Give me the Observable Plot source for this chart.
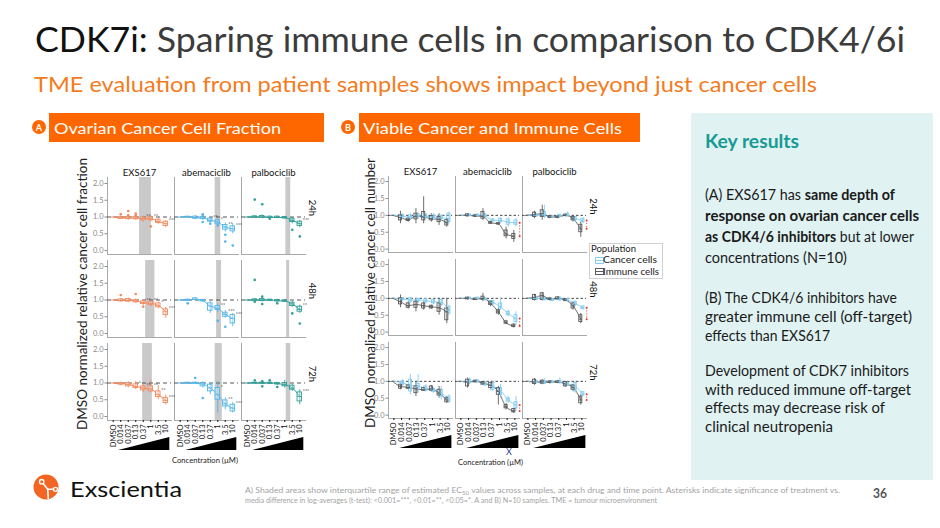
<!DOCTYPE html>
<html><head><meta charset="utf-8">
<script src="https://cdn.jsdelivr.net/npm/d3@7"></script>
<script src="https://cdn.jsdelivr.net/npm/@observablehq/plot@0.6"></script>
<style>
body{margin:0;background:#fff;}
#slide{position:relative;width:940px;height:528px;overflow:hidden;font-family:Lato,"Open Sans",sans-serif;background:#fff;}
.tx{position:absolute;white-space:nowrap;transform-origin:0 0;}
</style></head><body><div id="slide"></div>
<script>
// ---------------- DATA ----------------
const concLabels = ["DMSO","0.014","0.037","0.13","0.37","1","3.5","10"];
const concValues = [null,0.014,0.037,0.13,0.37,1,3.5,10];
const drugs = ["EXS617","abemaciclib","palbociclib"];
const times = ["24h","48h","72h"];
const drugColors = ["#F28A5E","#52B5E9","#2E9E96"];
const populations = ["Cancer cells","Immune cells"];
const popColors = ["#86CDF0","#5C5C5C"];

// Panel A: [median, q1, q3, whisker low, whisker high] per concentration
const fracEXS617_24h = [[1,1,1,1,1],[.97,.95,1,.93,1.02],[.97,.94,1,.9,1.04],[.97,.93,1,.9,1.04],[.95,.9,.99,.85,1.02],[.95,.9,1,.85,1.05],[.87,.82,.92,.78,.96],[.8,.73,.86,.68,.9]];
const fracAbema_24h = [[1,1,1,1,1],[1,.99,1.01,.98,1.02],[.98,.95,1.01,.92,1.05],[.97,.94,1,.9,1.03],[.9,.86,.95,.8,.98],[.85,.8,.9,.75,.95],[.7,.62,.76,.55,.82],[.65,.57,.72,.5,.8]];
const fracPalbo_24h = [[1,1,1,1,1],[1,.98,1.02,.96,1.04],[1,.98,1.03,.95,1.06],[.99,.97,1.01,.95,1.03],[.99,.97,1.01,.95,1.03],[.98,.96,1,.94,1.02],[.9,.85,.95,.8,.98],[.8,.73,.86,.68,.9]];
const fracEXS617_48h = [[1,1,1,1,1],[.99,.96,1.02,.93,1.05],[.99,.95,1.03,.92,1.06],[.97,.93,1,.9,1.03],[.92,.88,.96,.82,1],[.9,.85,.95,.8,.98],[.84,.78,.9,.74,.94],[.65,.55,.72,.45,.78]];
const fracAbema_48h = [[1,1,1,1,1],[1,.98,1.01,.96,1.02],[1.02,1,1.05,.98,1.07],[.98,.96,1,.94,1.01],[.82,.68,.9,.6,.95],[.75,.7,.82,.62,.88],[.57,.5,.62,.45,.68],[.45,.3,.55,.2,.6]];
const fracPalbo_48h = [[1,1,1,1,1],[1,.98,1.02,.96,1.04],[1,.97,1.03,.94,1.06],[1,.98,1.01,.96,1.02],[.98,.96,1,.94,1.02],[.97,.95,.99,.93,1.01],[.88,.82,.92,.78,.96],[.72,.65,.8,.6,.85]];
const fracEXS617_72h = [[1,1,1,1,1],[.98,.95,1,.92,1.03],[.96,.9,1,.85,1.04],[.9,.85,.96,.8,1.05],[.85,.78,.9,.72,.95],[.82,.75,.9,.7,1.08],[.65,.58,.75,.5,.92],[.48,.4,.55,.35,.65]];
const fracAbema_72h = [[1,1,1,1,1],[1,.98,1.01,.97,1.02],[1,.98,1.01,.97,1.03],[.97,.9,1,.85,1.04],[.85,.75,.95,.65,1],[.65,.5,.85,.1,1.05],[.38,.3,.48,.2,.55],[.25,.15,.35,.1,.42]];
const fracPalbo_72h = [[1,1,1,1,1],[1,.99,1.01,.98,1.02],[1,.98,1.01,.96,1.02],[1,.98,1.01,.96,1.02],[.98,.96,1,.93,1.02],[.95,.9,1,.85,1.08],[.85,.8,.92,.75,.96],[.6,.45,.72,.35,.8]];

// Panel A individual sample points: [concentration index, value]
const ptsEXS617_24h = [[1,1.08],[2,1.18],[2,1.05],[3,1.1],[3,1.05],[5,.72]];
const ptsAbema_24h = [[3,1.08],[3,1.03],[3,.85],[4,.8],[5,.75],[6,.47],[6,.27],[7,.15]];
const ptsPalbo_24h = [[1,1.52],[2,1.38],[3,.95],[6,.62],[7,.42]];
const ptsEXS617_48h = [[1,1.15],[3,1.18],[4,.8]];
const ptsAbema_48h = [[1,.9],[5,.38],[6,.2]];
const ptsPalbo_48h = [[1,1.6],[1,.95],[2,1.1],[2,.88],[4,.9],[6,.6],[7,.3]];
const ptsEXS617_72h = [];
const ptsAbema_72h = [[2,1.15],[3,.55]];
const ptsPalbo_72h = [[1,1.08],[2,1.05],[2,.9],[3,1.08],[4,.88]];

// Panel A significance labels: [concentration index, label]
const sigEXS617_24h = [[4,"**"],[5,"**"],[7,"***"]];
const sigAbema_24h = [[4,"**"],[5,"*"],[6,"**"],[7,"***"]];
const sigPalbo_24h = [[7,"***"]];
const sigEXS617_48h = [[4,"**"],[5,"**"],[6,"*"],[7,"***"]];
const sigAbema_48h = [[5,"**"],[6,"***"],[7,"***"]];
const sigPalbo_48h = [[7,"**"]];
const sigEXS617_72h = [[3,"*"],[4,"**"],[5,"**"],[6,"**"],[7,"***"]];
const sigAbema_72h = [[5,"*"],[6,"**"],[7,"***"]];
const sigPalbo_72h = [[7,"***"]];

// Panel A EC50 interquartile ranges (µM), rows = 24h, 48h, 72h
const ec50EXS617 = [[0.22,1.1],[0.51,2.0],[0.34,1.3]];
const ec50Abema = [[0.71,1.65],[0.86,1.87],[0.71,2.12]];
const ec50Palbo = [[1.2,2.7],[1.37,2.26],[1.28,2.72]];

// Panel B: cancer (C) and immune (I) cells, [median, q1, q3, low, high]
const numEXS617_24h_C = [[1,1,1,1,1],[.97,.93,1,.88,1.05],[.95,.9,1,.85,1.05],[.98,.93,1.03,.88,1.08],[.97,.92,1.02,.87,1.06],[.95,.9,1,.85,1.05],[.93,.88,.98,.82,1.03],[.9,.8,1.05,.75,1.1]];
const numEXS617_24h_I = [[1,1,1,1,1],[.93,.85,1,.75,1.12],[.87,.83,.9,.8,.95],[.97,.88,1.05,.75,1.2],[.95,.85,1.1,.75,1.55],[.9,.85,.98,.8,1.05],[.88,.8,.95,.7,1.05],[.78,.7,.86,.65,.92]];
const numAbema_24h_C = [[1,1,1,1,1],[1,.98,1.02,.96,1.04],[1,.97,1.02,.95,1.05],[.98,.95,1.02,.92,1.05],[.85,.82,.88,.8,.9],[.85,.8,.9,.75,.93],[.8,.72,.88,.65,.92],[.78,.72,.85,.65,.9]];
const numAbema_24h_I = [[1,1,1,1,1],[1,.97,1.03,.95,1.05],[.98,.96,1,.94,1.02],[.97,.9,1.1,.85,1.2],[.78,.75,.8,.73,.82],[.75,.73,.77,.71,.79],[.45,.38,.55,.3,.65],[.38,.3,.45,.2,.55]];
const numPalbo_24h_C = [[1,1,1,1,1],[1,.97,1.03,.94,1.06],[1.02,.95,1.1,.9,1.3],[.95,.92,.98,.9,1],[.98,.95,1.01,.92,1.04],[1,.97,1.05,.95,1.1],[.9,.85,.95,.8,.98],[.85,.8,.9,.75,.93]];
const numPalbo_24h_I = [[1,1,1,1,1],[1.02,.95,1.08,.9,1.12],[1.05,.95,1.15,.85,1.3],[.95,.92,.98,.9,1],[.95,.93,.97,.9,1],[1,.98,1.02,.95,1.04],[.9,.85,.95,.8,.98],[.6,.5,.72,.35,.8]];
const numEXS617_48h_C = [[1,1,1,1,1],[.98,.95,1,.9,1.03],[.95,.9,1,.85,1.02],[.95,.9,.98,.85,1],[.93,.88,.97,.83,1],[.9,.85,.95,.8,.98],[.88,.8,.95,.75,1],[.65,.55,.75,.5,.8]];
const numEXS617_48h_I = [[1,1,1,1,1],[.9,.82,1,.72,1.1],[.78,.72,.85,.68,.9],[.82,.72,.9,.6,1],[.78,.7,.85,.65,.9],[.75,.7,.78,.68,.8],[.72,.6,.85,.5,1],[.6,.35,.7,.25,1]];
const numAbema_48h_C = [[1,1,1,1,1],[1,.98,1.02,.96,1.04],[1,.98,1.02,.96,1.03],[.98,.95,1,.92,1.02],[.88,.82,.92,.78,.95],[.75,.7,.85,.65,1],[.55,.5,.6,.45,.65],[.4,.3,.5,.2,.6]];
const numAbema_48h_I = [[1,1,1,1,1],[1,.97,1.02,.95,1.04],[.97,.95,.99,.93,1],[1,.95,1.05,.9,1.15],[.85,.8,.9,.75,.92],[.6,.55,.65,.5,.7],[.28,.25,.32,.22,.35],[.18,.15,.22,.12,.25]];
const numPalbo_48h_C = [[1,1,1,1,1],[1,.96,1.03,.93,1.06],[.98,.95,1,.92,1.03],[.95,.92,.98,.9,1],[.98,.94,1.02,.9,1.05],[.95,.92,.98,.9,1],[.85,.8,.9,.75,.92],[.72,.68,.76,.65,.78]];
const numPalbo_48h_I = [[1,1,1,1,1],[1.03,.95,1.1,.92,1.12],[1.08,.95,1.15,.92,1.18],[.98,.95,1,.93,1.02],[1,.97,1.03,.95,1.05],[.95,.92,.97,.9,.98],[.78,.7,.85,.65,.88],[.38,.3,.5,.25,.55]];
const numEXS617_72h_C = [[1,1,1,1,1],[.95,.9,1,.85,1.05],[.88,.7,1.05,.6,1.2],[.85,.78,.92,.65,1.2],[.78,.72,.85,.68,.9],[.72,.68,.78,.65,.82],[.65,.55,.75,.45,.85],[.48,.4,.55,.35,.6]];
const numEXS617_72h_I = [[1,1,1,1,1],[.85,.78,.9,.75,.92],[.82,.78,.88,.75,.9],[.78,.65,.85,.55,1],[.75,.72,.8,.7,.82],[.78,.72,.85,.7,.88],[.65,.58,.75,.5,.85],[.45,.38,.5,.35,.55]];
const numAbema_72h_C = [[1,1,1,1,1],[1,.95,1.05,.9,1.1],[1,.97,1.03,.95,1.05],[.92,.88,.96,.85,1],[.85,.75,.95,.7,1],[.72,.6,.8,.5,.9],[.45,.4,.5,.35,.55],[.3,.2,.38,.1,.55]];
const numAbema_72h_I = [[1,1,1,1,1],[.98,.85,1.05,.8,1.1],[1,.97,1.02,.95,1.03],[.95,.9,.98,.88,1],[.88,.8,.95,.75,.98],[.7,.6,.8,.3,.85],[.25,.2,.3,.15,.35],[.12,.08,.18,.05,.2]];
const numPalbo_72h_C = [[1,1,1,1,1],[.98,.95,1,.92,1.03],[.97,.92,1,.9,1.08],[.98,.95,1,.93,1.03],[.98,.95,1.02,.9,1.1],[.92,.88,.95,.85,.98],[.85,.7,.95,.65,1],[.62,.58,.68,.55,.7]];
const numPalbo_72h_I = [[1,1,1,1,1],[.98,.92,1.05,.88,1.08],[.98,.93,1.02,.9,1.05],[.98,.95,1,.92,1.02],[.98,.95,1,.93,1.02],[.92,.85,.98,.82,1],[.82,.75,.88,.7,.9],[.45,.35,.55,.3,.6]];

// Panel B: significant cancer-vs-immune differences at the top concentration
const sigPairsB = [["abemaciclib","24h"],["palbociclib","24h"],["abemaciclib","48h"],["palbociclib","48h"],["abemaciclib","72h"],["palbociclib","72h"]];

// ---------------- BUILD TABLES ----------------
function concIndex(c){
  for (let k=1;k<7;k++) if (c <= concValues[k+1]) return k + Math.log(c/concValues[k])/Math.log(concValues[k+1]/concValues[k]);
  return 7;
}
const toRow = (drug,time,pop) => (t,i) => ({drug,time,pop,i,med:t[0],q1:t[1],q3:t[2],lo:t[3],hi:t[4]});
const fracSeries = [[fracEXS617_24h,fracAbema_24h,fracPalbo_24h],[fracEXS617_48h,fracAbema_48h,fracPalbo_48h],[fracEXS617_72h,fracAbema_72h,fracPalbo_72h]];
const ptsSeries = [[ptsEXS617_24h,ptsAbema_24h,ptsPalbo_24h],[ptsEXS617_48h,ptsAbema_48h,ptsPalbo_48h],[ptsEXS617_72h,ptsAbema_72h,ptsPalbo_72h]];
const sigSeries = [[sigEXS617_24h,sigAbema_24h,sigPalbo_24h],[sigEXS617_48h,sigAbema_48h,sigPalbo_48h],[sigEXS617_72h,sigAbema_72h,sigPalbo_72h]];
const ec50Series = [ec50EXS617, ec50Abema, ec50Palbo];
const numSeries = [
  [[numEXS617_24h_C,numEXS617_24h_I],[numAbema_24h_C,numAbema_24h_I],[numPalbo_24h_C,numPalbo_24h_I]],
  [[numEXS617_48h_C,numEXS617_48h_I],[numAbema_48h_C,numAbema_48h_I],[numPalbo_48h_C,numPalbo_48h_I]],
  [[numEXS617_72h_C,numEXS617_72h_I],[numAbema_72h_C,numAbema_72h_I],[numPalbo_72h_C,numPalbo_72h_I]]
];
const rowsA=[], ptsA=[], sigA=[], bandsA=[], rowsB=[];
times.forEach((time,ti)=>drugs.forEach((drug,di)=>{
  const rows = fracSeries[ti][di].map(toRow(drug,time));
  rowsA.push(...rows);
  ptsSeries[ti][di].forEach(p=>ptsA.push({drug,time,i:p[0],v:p[1]}));
  sigSeries[ti][di].forEach(s=>sigA.push({drug,time,i:s[0],y:rows[s[0]].q3,label:s[1]}));
  const e = ec50Series[di][ti];
  bandsA.push({drug,time,x1:concIndex(e[0]),x2:concIndex(e[1])});
  populations.forEach((pop,pi)=>rowsB.push(...numSeries[ti][di][pi].map(toRow(drug,time,pop))));
}));
const sigB = sigPairsB.map(([drug,time])=>{
  const last = concLabels.length-1;
  const c = rowsB.find(r=>r.drug===drug&&r.time===time&&r.pop===populations[0]&&r.i===last);
  const m = rowsB.find(r=>r.drug===drug&&r.time===time&&r.pop===populations[1]&&r.i===last);
  return {drug,time,i:last,c:c.med,m:m.med};
});

// ---------------- PAGE TEXT ----------------
const slide = document.getElementById("slide");
function put(html,x,base,size,width,style={},align="start"){
  const el=document.createElement("div"); el.className="tx"; el.innerHTML=html;
  Object.assign(el.style,{left:x+"px",top:(base-0.887*size)+"px",fontSize:size+"px",lineHeight:size+"px"},style);
  slide.appendChild(el);
  const w=el.getBoundingClientRect().width;
  const k = width ? width/w : 1;
  if (width) el.style.transform=`scaleX(${k})`;
  if (align==="middle") el.style.left=(x - w*k/2)+"px";
  return el;
}
function putRot(text,cx,cy,size,length,color){
  const el=document.createElement("div"); el.className="tx"; el.textContent=text;
  Object.assign(el.style,{left:cx+"px",top:cy+"px",fontSize:size+"px",lineHeight:size+"px",color,transformOrigin:"50% 50%"});
  slide.appendChild(el);
  const w=el.getBoundingClientRect().width;
  el.style.transform=`translate(-50%,-50%) rotate(-90deg) scaleX(${length/w})`;
}
function box(x,y,w,h,bg){const d=document.createElement("div");Object.assign(d.style,{position:"absolute",left:x+"px",top:y+"px",width:w+"px",height:h+"px",background:bg});slide.appendChild(d);return d;}

put('<span style="color:#111">CDK7i:</span> Sparing immune cells in comparison to CDK4/6i',35,52,34,870,{color:"#3c3c3c"});
put('TME evaluation from patient samples shows impact beyond just cancer cells',34,93,22,783,{color:"#F47B20"});

// section headers
box(49,113,275,29,"#FE6700");
box(359,113,281,29,"#FE6700");
for (const [cx,l] of [[39,"A"],[348,"B"]]) {
  const c=box(cx-7,120,14,14,"#FE6700"); c.style.borderRadius="50%";
  put(l,cx,130.5,9,0,{color:"#fff",fontWeight:"bold"},"middle");
}
put('Ovarian Cancer Cell Fraction',54,134,16,227,{color:"#fff"});
put('Viable Cancer and Immune Cells',363,134,16,259,{color:"#fff"});

// key results
box(691,113,242,367,"#E0F2F2");
put('Key results',705,148,19,94,{color:"#179A95",fontWeight:"bold"});
const kr = [
 ['(A) EXS617 has <b>same depth of</b>',201,190],
 ['<b>response on ovarian cancer cells</b>',222,214],
 ['<b>as CDK4/6 inhibitors</b> but at lower',243,209],
 ['concentrations (N=10)',264,142],
 ['(B) The CDK4/6 inhibitors have',304,192],
 ['greater immune cell (off-target)',323,207],
 ['effects than EXS617',342,125],
 ['Development of CDK7 inhibitors',377,204],
 ['with reduced immune off-target',395.5,206],
 ['effects may decrease risk of',414,180],
 ['clinical neutropenia',432.5,128]
];
kr.forEach(([h,b,w])=>put(h,705,b,14.5,w,{color:"#1a1a1a"}));

// footer
const logo = document.createElementNS("http://www.w3.org/2000/svg","svg");
logo.setAttribute("width","30");logo.setAttribute("height","30");
Object.assign(logo.style,{position:"absolute",left:"32px",top:"473px"});
logo.innerHTML='<circle cx="14" cy="14" r="12.5" fill="#F26522"/><path d="M9.7,8.7L15.7,16.3L23.5,16.3M15.7,16.3L16.3,26" stroke="#fff" stroke-width="1.6" fill="none"/><circle cx="9.7" cy="8.7" r="2.2" fill="#F26522" stroke="#fff" stroke-width="1.3"/><circle cx="23.5" cy="16.3" r="2" fill="#F26522" stroke="#fff" stroke-width="1.3"/>';
slide.appendChild(logo);
put('Exscientia',70,497,20.5,112,{color:"#111"});
put('A) Shaded areas show interquartile range of estimated EC<sub style="font-size:5px;line-height:0">50</sub> values across samples, at each drug and time point. Asterisks indicate significance of treatment vs.',245,493,7,595,{color:"#a3a3a3"});
put('media difference in log-averages (t-test): &lt;0.001=***, &lt;0.01=**, &lt;0.05=*. A and B) N=10 samples. TME = tumour microenvironment',245,503,7,412,{color:"#a3a3a3"});
put('36',873,499,13,14,{color:"#555",fontWeight:"bold"});

// axis titles
putRot('DMSO normalized relative cancer cell fraction',82,294,14,272,"#222");
putRot('DMSO normalized relative cancer cell number',370,293,14,270,"#222");
put('Concentration (µM)',205,463,8,66,{color:"#222"},"middle");
put('Concentration (µM)',490,465,8,65,{color:"#222"},"middle");
put('X',509,455,9,0,{color:"#2B3A8C"},"middle");

// ---------------- PLOTS ----------------
function facetLabels(){
  return [
    Plot.text(drugs,{fx:d=>d,fy:()=>times[0],frameAnchor:"top",dy:-8,text:d=>d,fontSize:9.5,fill:"#111"}),
    Plot.text(times,{fy:d=>d,fx:()=>drugs[2],frameAnchor:"right",dx:7,rotate:90,text:d=>d,fontSize:9.5,fill:"#111"})
  ];
}
function axes(){
  return [
    Plot.frame({anchor:"left",stroke:"#a9a9a9"}),
    Plot.frame({anchor:"bottom",stroke:"#a9a9a9"}),
    Plot.axisY({ticks:[0,0.5,1,1.5,2],tickFormat:".1f",tickSize:2.5,tickPadding:1.5,fontSize:7.5,color:"#8a8a8a",label:null}),
    Plot.axisX({ticks:d3.range(concLabels.length),tickFormat:i=>concLabels[i],tickRotate:-90,tickSize:2,tickPadding:2,fontSize:7.5,color:"#111",label:null})
  ];
}
function addWedges(plot,mL){
  const fx=plot.scale("fx"), fy=plot.scale("fy"), x=plot.scale("x");
  const yb=fy.apply(times[2])+fy.bandwidth;
  const svg=d3.select(plot);
  for (const d of drugs){
    const off=fx.apply(d)-mL;
    const x0=off+x.apply(1)-2, x1=off+x.apply(concLabels.length-1)+4;
    svg.append("path").attr("d",`M${x0},${yb+30}L${x1},${yb+17}L${x1},${yb+30}Z`).attr("fill","#000");
  }
}

const hwA=0.3;
const mA={l:34,r:15,t:18,b:38};
const plotA = Plot.plot({
  width:250,height:300,marginLeft:mA.l,marginRight:mA.r,marginTop:mA.t,marginBottom:mA.b,
  style:{fontFamily:"Lato, sans-serif",background:"transparent",overflow:"visible"},
  fx:{domain:drugs,paddingInner:0.04,paddingOuter:0,axis:null},
  fy:{domain:times,paddingInner:0.075,paddingOuter:0,axis:null},
  x:{domain:[-0.76,7.76],axis:null},
  y:{domain:[-0.12,2.18],axis:null},
  color:{domain:drugs,range:drugColors},
  marks:[
    Plot.rect(bandsA,{fx:"drug",fy:"time",x1:"x1",x2:"x2",fill:"#c9c9c9"}),
    ...axes(),
    Plot.ruleY([1],{stroke:"#444",strokeDasharray:"4,3",strokeWidth:0.9}),
    Plot.line(rowsA,{fx:"drug",fy:"time",x:"i",y:"med",stroke:"drug",curve:"monotone-x",strokeWidth:1}),
    Plot.ruleX(rowsA,{fx:"drug",fy:"time",x:"i",y1:"lo",y2:"hi",stroke:"drug",strokeWidth:0.9}),
    Plot.rect(rowsA,{fx:"drug",fy:"time",x1:d=>d.i-hwA,x2:d=>d.i+hwA,y1:"q1",y2:"q3",stroke:"drug",fill:"white",fillOpacity:0.3,strokeWidth:0.9}),
    Plot.ruleY(rowsA,{fx:"drug",fy:"time",y:"med",x1:d=>d.i-hwA,x2:d=>d.i+hwA,stroke:"drug",strokeWidth:0.9}),
    Plot.dot(ptsA,{fx:"drug",fy:"time",x:"i",y:"v",r:1.3,fill:"drug",stroke:null}),
    Plot.text(sigA,{fx:"drug",fy:"time",x:"i",y:"y",text:"label",dx:3,dy:-1,fontSize:5,textAnchor:"start",fill:"#222"}),
    ...facetLabels()
  ]
});
Object.assign(plotA.style,{position:"absolute",left:"72px",top:"158px"});
slide.appendChild(plotA);
addWedges(plotA,mA.l);

const hwB=0.2, offB=0.14;
const xB = d => d.i + (d.pop===populations[0] ? offB : -offB);
const mB={l:32,r:18,t:18,b:40};
const plotB = Plot.plot({
  width:250,height:300,marginLeft:mB.l,marginRight:mB.r,marginTop:mB.t,marginBottom:mB.b,
  style:{fontFamily:"Lato, sans-serif",background:"transparent",overflow:"visible"},
  fx:{domain:drugs,paddingInner:0.04,paddingOuter:0,axis:null},
  fy:{domain:times,paddingInner:0.085,paddingOuter:0,axis:null},
  x:{domain:[-0.7,7.6],axis:null},
  y:{domain:[-0.1,2.15],axis:null},
  color:{domain:populations,range:popColors},
  marks:[
    ...axes(),
    Plot.ruleY([1],{stroke:"#333",strokeDasharray:"2.5,2",strokeWidth:0.9}),
    Plot.line(rowsB,{fx:"drug",fy:"time",x:xB,y:"med",z:"pop",stroke:"pop",curve:"monotone-x",strokeWidth:0.9}),
    Plot.ruleX(rowsB,{fx:"drug",fy:"time",x:xB,y1:"lo",y2:"hi",stroke:"pop",strokeWidth:0.9}),
    Plot.rect(rowsB,{fx:"drug",fy:"time",x1:d=>xB(d)-hwB,x2:d=>xB(d)+hwB,y1:"q1",y2:"q3",stroke:"pop",fill:"none",strokeWidth:0.9}),
    Plot.ruleY(rowsB,{fx:"drug",fy:"time",y:"med",x1:d=>xB(d)-hwB,x2:d=>xB(d)+hwB,stroke:"pop",strokeWidth:0.9}),
    Plot.ruleX(sigB,{fx:"drug",fy:"time",x:d=>d.i+0.62,y1:"c",y2:"m",stroke:"#e8332a",strokeDasharray:"1.2,1.8",strokeWidth:0.8}),
    Plot.dot(sigB,{fx:"drug",fy:"time",x:d=>d.i+0.62,y:"c",r:1,fill:"#e8332a",stroke:null}),
    Plot.dot(sigB,{fx:"drug",fy:"time",x:d=>d.i+0.62,y:"m",r:1,fill:"#e8332a",stroke:null}),
    ...facetLabels()
  ]
});
Object.assign(plotB.style,{position:"absolute",left:"355px",top:"158px"});
slide.appendChild(plotB);
addWedges(plotB,mB.l);

// legend for panel B
const lg=box(589,243,74,36,"#fff"); lg.style.border="1px solid #d0d0d0"; lg.style.boxSizing="border-box";
put('Population',591,252,9,45,{color:"#222"});
populations.forEach((p,k)=>{
  const s=document.createElementNS("http://www.w3.org/2000/svg","svg");
  s.setAttribute("width","9");s.setAttribute("height","9");
  Object.assign(s.style,{position:"absolute",left:"594.5px",top:(256+k*11)+"px"});
  s.innerHTML=`<rect x="0.5" y="1.5" width="8" height="6" fill="none" stroke="${popColors[k]}"/><line x1="0.5" x2="8.5" y1="4.5" y2="4.5" stroke="${popColors[k]}"/>`;
  slide.appendChild(s);
  put(p,603,263+k*11.5,9,k?56:54,{color:"#222"});
});
</script></body></html>
